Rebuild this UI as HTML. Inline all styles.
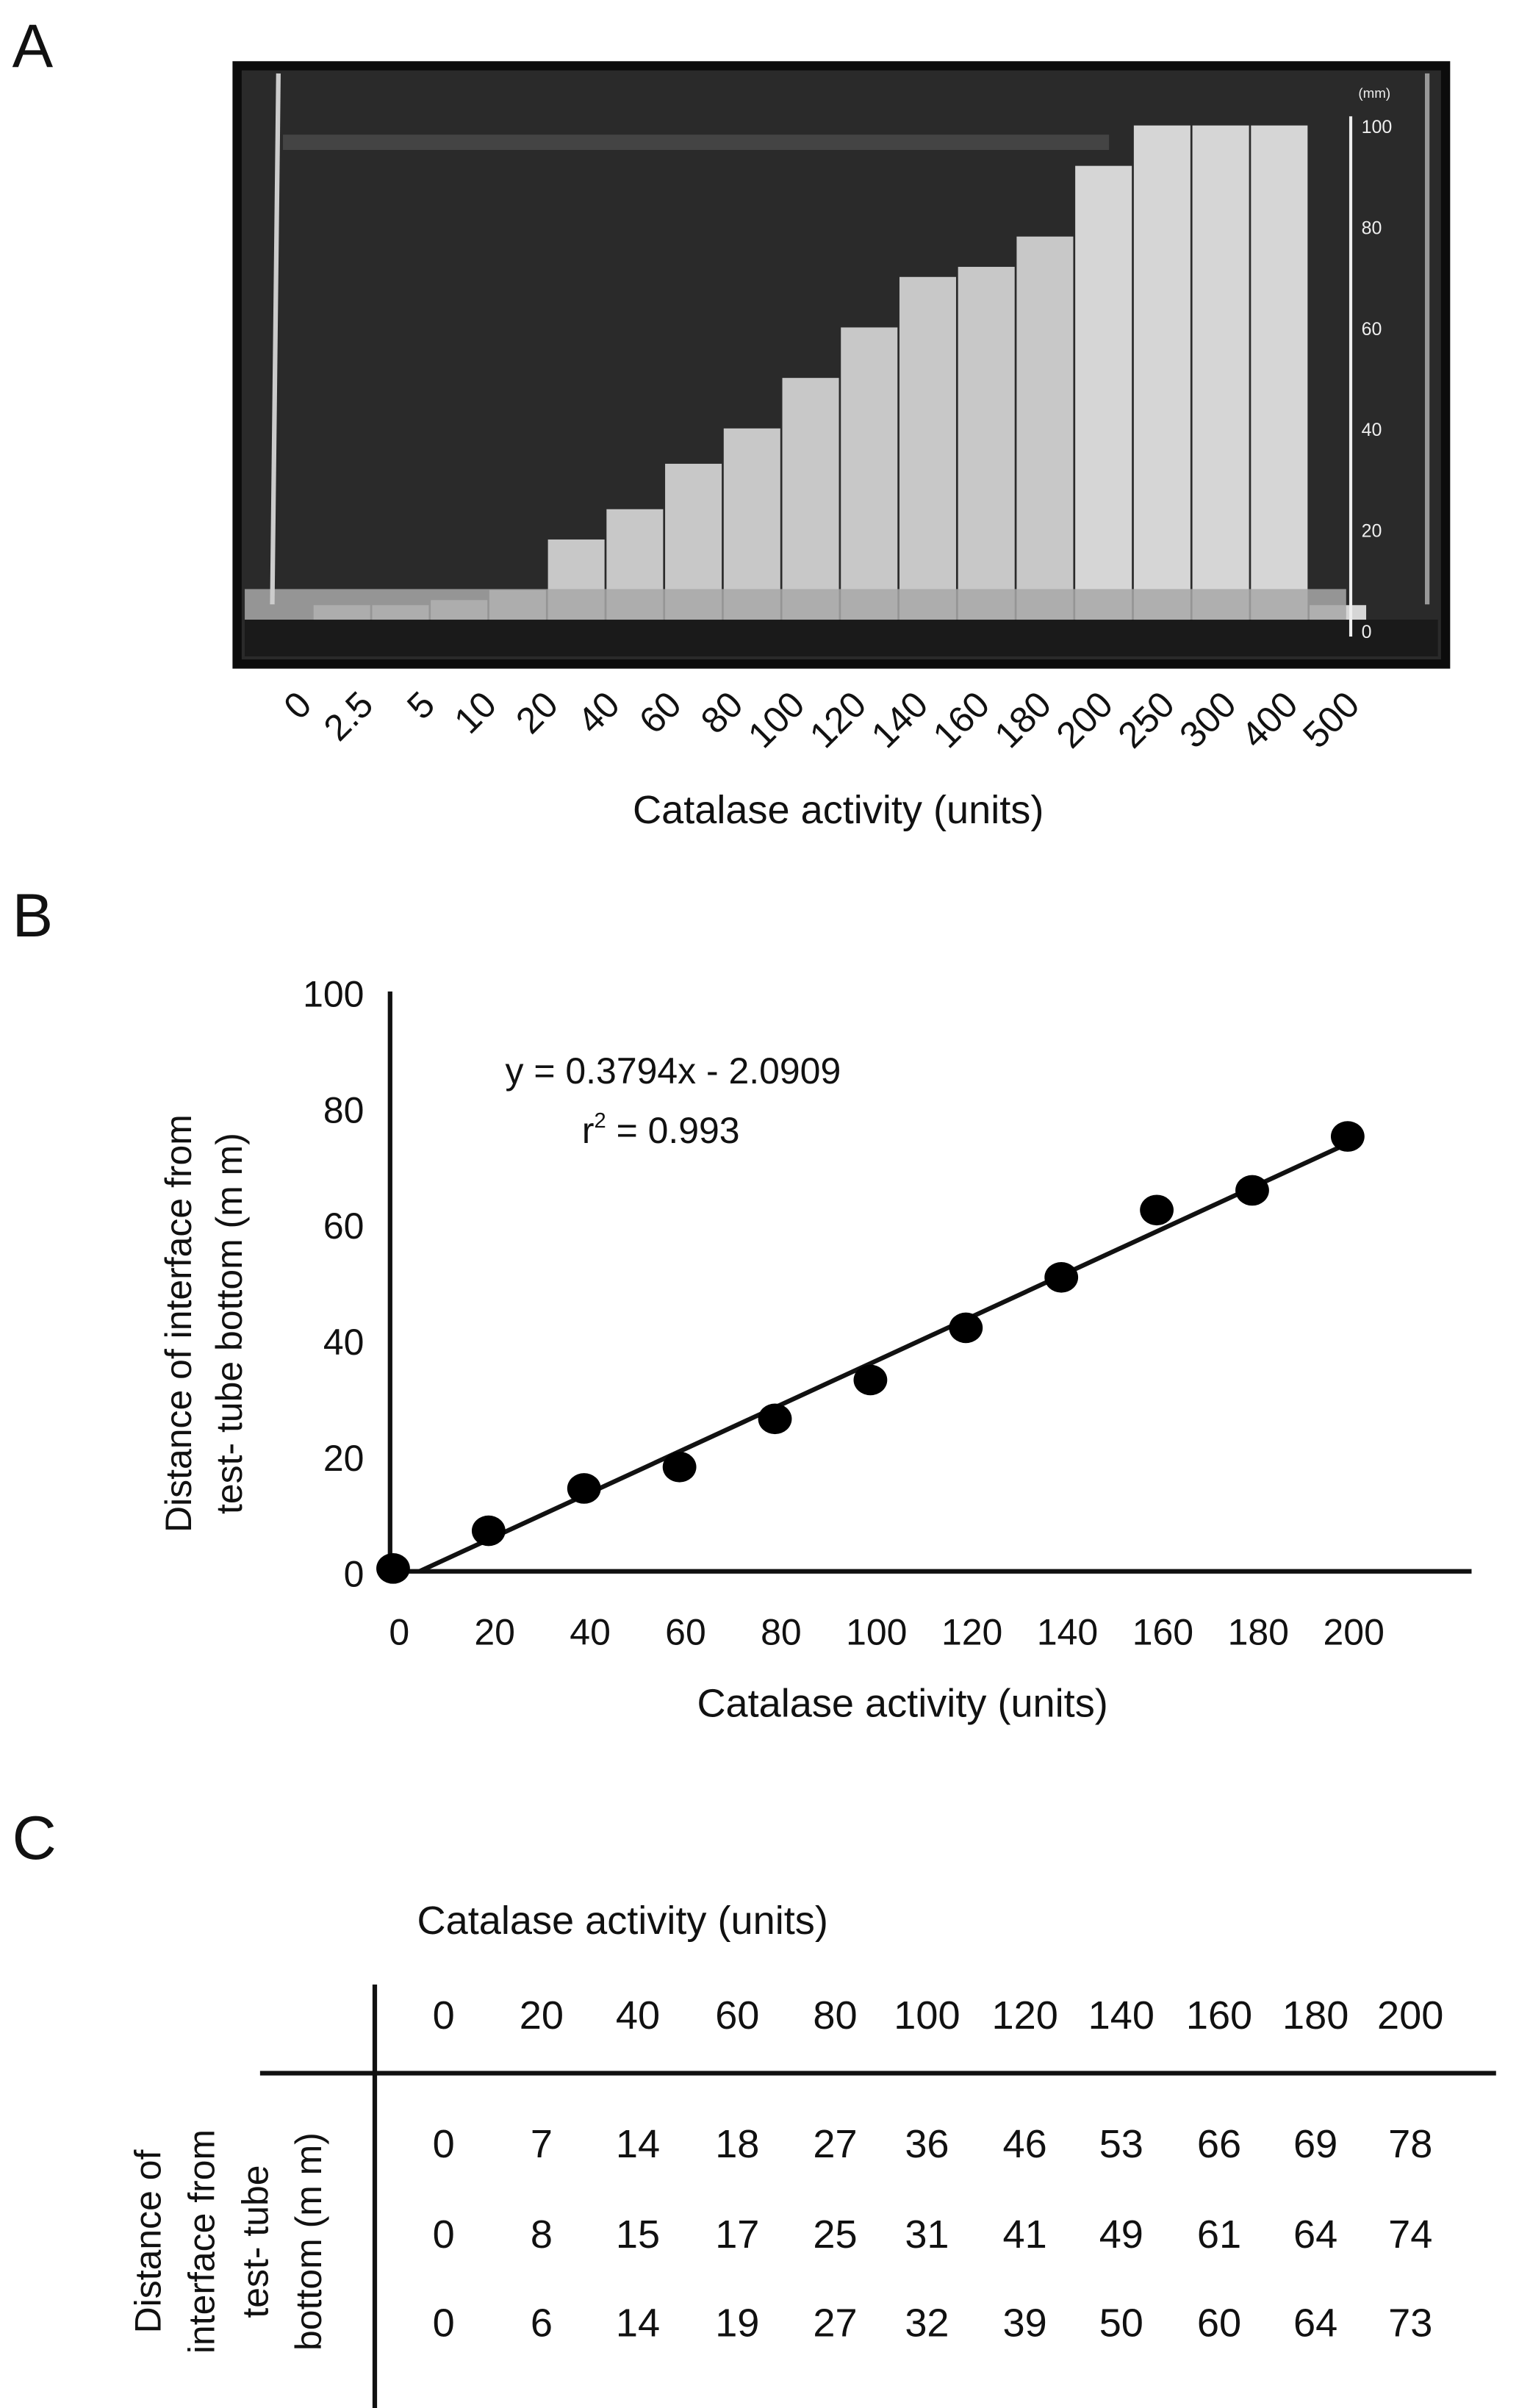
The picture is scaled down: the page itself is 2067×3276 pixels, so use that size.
<!DOCTYPE html>
<html><head><meta charset="utf-8"><style>
html,body{margin:0;padding:0;background:#fff}
svg{display:block}
text{font-family:"Liberation Sans",Arial,sans-serif;fill:#111}
</style></head><body>
<svg id="fig" width="2067" height="3276" viewBox="0 0 993 1573.8" preserveAspectRatio="none" xmlns="http://www.w3.org/2000/svg">
<text x="8" y="44" font-size="40">A</text>
<g id="photo">
<rect x="152" y="40" width="796" height="397" fill="#0c0c0c"/>
<rect x="158" y="46" width="784" height="385" fill="#2a2a2a"/>
</g>
<text x="548" y="538" font-size="26" text-anchor="middle">Catalase activity (units)</text>
<g id="aTicks"></g>

<text x="8" y="612" font-size="40">B</text>
<g id="chartB"></g>
<text x="440" y="708" font-size="24" text-anchor="middle">y = 0.3794x - 2.0909</text>
<text x="432" y="747" font-size="24" text-anchor="middle">r<tspan font-size="14" dy="-10">2</tspan><tspan dy="10"> = 0.993</tspan></text>
<text x="590" y="1122" font-size="26" text-anchor="middle">Catalase activity (units)</text>
<g transform="translate(0,865) rotate(-90)">
<text x="0" y="125" font-size="24" text-anchor="middle">Distance of interface from</text>
<text x="0" y="158" font-size="24" text-anchor="middle">test- tube bottom  (m m)</text>
</g>

<text x="8" y="1215" font-size="40">C</text>
<text x="407" y="1264" font-size="26" text-anchor="middle">Catalase activity (units)</text>
<line x1="245" y1="1297" x2="245" y2="1585" stroke="#111" stroke-width="3"/>
<line x1="170" y1="1355" x2="978" y2="1355" stroke="#111" stroke-width="3"/>
<g transform="translate(0,1465) rotate(-90)">
<text x="0" y="105" font-size="24" text-anchor="middle">Distance of</text>
<text x="0" y="140" font-size="24" text-anchor="middle">interface from</text>
<text x="0" y="175" font-size="24" text-anchor="middle">test- tube</text>
<text x="0" y="210" font-size="24" text-anchor="middle">bottom  (m m)</text>
</g>
<g id="table"></g>
</svg>
<script>
// Panel A data
const tubeLabels = ["0","2.5","5","10","20","40","60","80","100","120","140","160","180","200","250","300","400","500"];
const tubeHeights = [5,5,6,8,18,24,33,40,50,60,70,72,78,92,100,100,100,5];
// Panel B data
const xValues = [0,20,40,60,80,100,120,140,160,180,200];
const yMeans = [0.5,7,14.3,18,26.3,33,42,50.7,62.3,65.7,75];
const xTicks = [0,20,40,60,80,100,120,140,160,180,200];
const yTicks = [0,20,40,60,80,100];
const slope = 0.3794, intercept = -2.0909;
// Panel C data
const tableHeaders = [0,20,40,60,80,100,120,140,160,180,200];
const tableRow1 = [0,7,14,18,27,36,46,53,66,69,78];
const tableRow2 = [0,8,15,17,25,31,41,49,61,64,74];
const tableRow3 = [0,6,14,19,27,32,39,50,60,64,73];

const NS="http://www.w3.org/2000/svg";
function mk(tag,attrs,parent){const e=document.createElementNS(NS,tag);for(const k in attrs)e.setAttribute(k,attrs[k]);parent.appendChild(e);return e;}

// Panel A photo
const photo=document.getElementById('photo');
const mm=v=>412-v*3.3;
const tubeX=i=>223+i*38.3;
tubeLabels.forEach((l,i)=>{
  const h=tubeHeights[i];
  const r=mk('rect',{x:tubeX(i)-18,y:mm(h),width:37,height:mm(0)-mm(h),fill:i>=13?'#d6d6d6':'#c8c8c8'},photo);
  
  
});
mk('rect',{x:160,y:385,width:720,height:20,fill:'#a8a8a8',opacity:0.85},photo);
mk('rect',{x:160,y:405,width:780,height:24,fill:'#1a1a1a'},photo);
mk('rect',{x:185,y:88,width:540,height:10,fill:'#444'},photo);
mk('line',{x1:883,y1:76,x2:883,y2:416,stroke:'#eee','stroke-width':2},photo);
mk('line',{x1:182,y1:48,x2:178,y2:395,stroke:'#ccc','stroke-width':3},photo);
mk('line',{x1:933,y1:48,x2:933,y2:395,stroke:'#999','stroke-width':3},photo);
const sc=mk('text',{x:888,y:64,'font-size':9,style:'fill:#eee'},photo);sc.textContent='(mm)';
[0,20,40,60,80,100].forEach(v=>{const t=mk('text',{x:890,y:mm(v)+5,'font-size':12,style:'fill:#eee'},photo);t.textContent=v;
  
  });

const aT=document.getElementById('aTicks');
tubeLabels.forEach((l,i)=>{
  const x=205+i*40.3, y=462;
  const t=mk('text',{x:x,y:y,'font-size':24,'text-anchor':'end',transform:`rotate(-45 ${x} ${y})`},aT);
  t.textContent=l;
  
  
});

// Panel B
const B=document.getElementById('chartB');
const sx=v=>257+v*3.12;
const sy=v=>1027-v*3.79;
const ax=mk('line',{x1:255,y1:sy(0),x2:962,y2:sy(0),stroke:'#111','stroke-width':3},B);

const ay=mk('line',{x1:255,y1:648,x2:255,y2:sy(0),stroke:'#111','stroke-width':3},B);

xTicks.forEach(v=>{const t=mk('text',{x:sx(v)+4,y:1075,'font-size':24,'text-anchor':'middle'},B);t.textContent=v;
  });
yTicks.forEach(v=>{const t=mk('text',{x:238,y:sy(v)+10,'font-size':24,'text-anchor':'end'},B);t.textContent=v;
  });
const x0=5.5,x1=200;
const fit=mk('line',{x1:sx(x0),y1:sy(slope*x0+intercept),x2:sx(x1),y2:sy(slope*x1+intercept),stroke:'#111','stroke-width':3},B);

xValues.forEach((x,i)=>{const c=mk('ellipse',{cx:sx(x),cy:sy(yMeans[i]),rx:11,ry:10,fill:'#000'},B);
  });

// Panel C
const T=document.getElementById('table');
const colX=[290,354,417,482,546,606,670,733,797,860,922];
tableHeaders.forEach((h,i)=>{const t=mk('text',{x:colX[i],y:1326,'font-size':26,'text-anchor':'middle'},T);t.textContent=h;
  });
[[tableRow1,1410],[tableRow2,1469],[tableRow3,1527]].forEach(([row,y],r)=>{
  row.forEach((v,i)=>{const t=mk('text',{x:colX[i],y:y,'font-size':26,'text-anchor':'middle'},T);t.textContent=v;
    });
});
</script>
</body></html>
